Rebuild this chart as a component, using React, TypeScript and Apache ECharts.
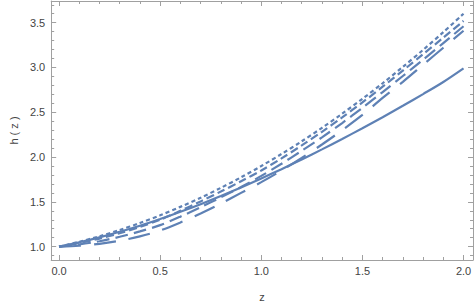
import React, { useEffect, useRef } from "react";
import * as echarts from "echarts";

const Z = [0, 0.1, 0.2, 0.3, 0.4, 0.5, 0.6, 0.7, 0.8, 0.9, 1.0, 1.1, 1.2, 1.3, 1.4, 1.5, 1.6, 1.7, 1.8, 1.9, 2.0];
const SOLID = [1.0, 1.049, 1.104, 1.166, 1.234, 1.309, 1.389, 1.474, 1.565, 1.661, 1.761, 1.865, 1.973, 2.086, 2.202, 2.322, 2.445, 2.572, 2.703, 2.838, 2.99];
const DASH1 = [1.0, 1.054, 1.116, 1.186, 1.264, 1.35, 1.444, 1.546, 1.656, 1.774, 1.9, 2.034, 2.176, 2.326, 2.484, 2.65, 2.824, 3.006, 3.196, 3.394, 3.6];
const DASH2 = [1.0, 1.04, 1.09, 1.15, 1.22, 1.30, 1.40, 1.505, 1.615, 1.73, 1.85, 1.985, 2.13, 2.282, 2.442, 2.61, 2.785, 2.965, 3.148, 3.333, 3.52];
const DASH3 = [1.0, 1.025, 1.06, 1.11, 1.17, 1.24, 1.335, 1.44, 1.55, 1.665, 1.79, 1.925, 2.07, 2.22, 2.38, 2.55, 2.725, 2.905, 3.087, 3.272, 3.46];
const DASH4 = [1.0, 1.01, 1.032, 1.066, 1.115, 1.18, 1.27, 1.37, 1.48, 1.60, 1.72, 1.85, 1.99, 2.14, 2.30, 2.47, 2.66, 2.84, 3.03, 3.22, 3.41];

const X_MAJOR = [0, 0.5, 1.0, 1.5, 2.0];
const X_MINOR = [0.1, 0.2, 0.3, 0.4, 0.6, 0.7, 0.8, 0.9, 1.1, 1.2, 1.3, 1.4, 1.6, 1.7, 1.8, 1.9];
const Y_MAJOR = [1.0, 1.5, 2.0, 2.5, 3.0, 3.5];
const Y_MINOR = [0.9, 1.1, 1.2, 1.3, 1.4, 1.6, 1.7, 1.8, 1.9, 2.1, 2.2, 2.3, 2.4, 2.6, 2.7, 2.8, 2.9, 3.1, 3.2, 3.3, 3.4, 3.6, 3.7];

const X_MIN = -0.0387;
const X_MAX = 2.0468;
const Y_MIN = 0.851;
const Y_MAX = 3.742;

const COLOR = "#5e81b5";
const FRAME = "#a0a0a0";
const TEXT = "#444";
const FONT = "Liberation Sans, Arial, sans-serif";

function pairs(ys: number[]) {
  return Z.map((z, i) => [z, ys[i]]);
}

function xAxisDef(pos: "top" | "bottom", values: number[], len: number, labels: boolean, line: boolean, extra: any = {}) {
  return {
    type: "value",
    position: pos,
    min: X_MIN,
    max: X_MAX,
    splitLine: { show: false },
    axisLine: { show: line, onZero: false, lineStyle: { color: FRAME, width: 1 } },
    axisTick: { show: true, inside: true, length: len, customValues: values, lineStyle: { color: FRAME, width: 1 } },
    axisLabel: labels
      ? { show: true, customValues: values, formatter: (v: number) => v.toFixed(1), color: TEXT, fontFamily: FONT, fontSize: 11, margin: 5 }
      : { show: false },
    ...extra,
  };
}

function yAxisDef(pos: "left" | "right", values: number[], len: number, labels: boolean, line: boolean, extra: any = {}) {
  return {
    type: "value",
    position: pos,
    min: Y_MIN,
    max: Y_MAX,
    splitLine: { show: false },
    axisLine: { show: line, onZero: false, lineStyle: { color: FRAME, width: 1 } },
    axisTick: { show: true, inside: true, length: len, customValues: values, lineStyle: { color: FRAME, width: 1 } },
    axisLabel: labels
      ? { show: true, customValues: values, formatter: (v: number) => v.toFixed(1), color: TEXT, fontFamily: FONT, fontSize: 11, margin: 6 }
      : { show: false },
    ...extra,
  };
}

function lineSeries(ys: number[], dash: any) {
  return {
    type: "line",
    data: pairs(ys),
    xAxisIndex: 0,
    yAxisIndex: 0,
    symbol: "none",
    smooth: 0.3,
    lineStyle: { color: COLOR, width: 2.2, type: dash },
  };
}

export default function App() {
  const ref = useRef<HTMLDivElement>(null);
  useEffect(() => {
    if (!ref.current) return;
    const chart = echarts.init(ref.current, undefined, { renderer: "svg" });
    chart.setOption({
      animation: false,
      backgroundColor: "#fff",
      grid: { left: 42, right: 1, top: 1, bottom: 40, containLabel: false },
      xAxis: [
        xAxisDef("bottom", X_MAJOR, 5, true, true, {
          name: "z",
          nameLocation: "middle",
          nameGap: 31,
          nameTextStyle: { color: TEXT, fontFamily: FONT, fontSize: 11 },
        }),
        xAxisDef("bottom", X_MINOR, 3, false, false),
        xAxisDef("top", X_MAJOR, 5, false, true),
        xAxisDef("top", X_MINOR, 3, false, false),
      ],
      yAxis: [
        yAxisDef("left", Y_MAJOR, 5, true, true, {
          name: "h ( z )",
          nameLocation: "middle",
          nameGap: 29,
          nameRotate: 90,
          nameTextStyle: { color: TEXT, fontFamily: FONT, fontSize: 11 },
        }),
        yAxisDef("left", Y_MINOR, 3, false, false),
        yAxisDef("right", Y_MAJOR, 5, false, true),
        yAxisDef("right", Y_MINOR, 3, false, false),
      ],
      series: [
        lineSeries(SOLID, "solid"),
        lineSeries(DASH4, [22, 13]),
        lineSeries(DASH3, [13, 6]),
        lineSeries(DASH2, [8, 4]),
        lineSeries(DASH1, [4, 3]),
      ],
    });
    return () => chart.dispose();
  }, []);
  return <div ref={ref} style={{ position: "fixed", left: 0, top: 0, width: 474, height: 307 }} />;
}
